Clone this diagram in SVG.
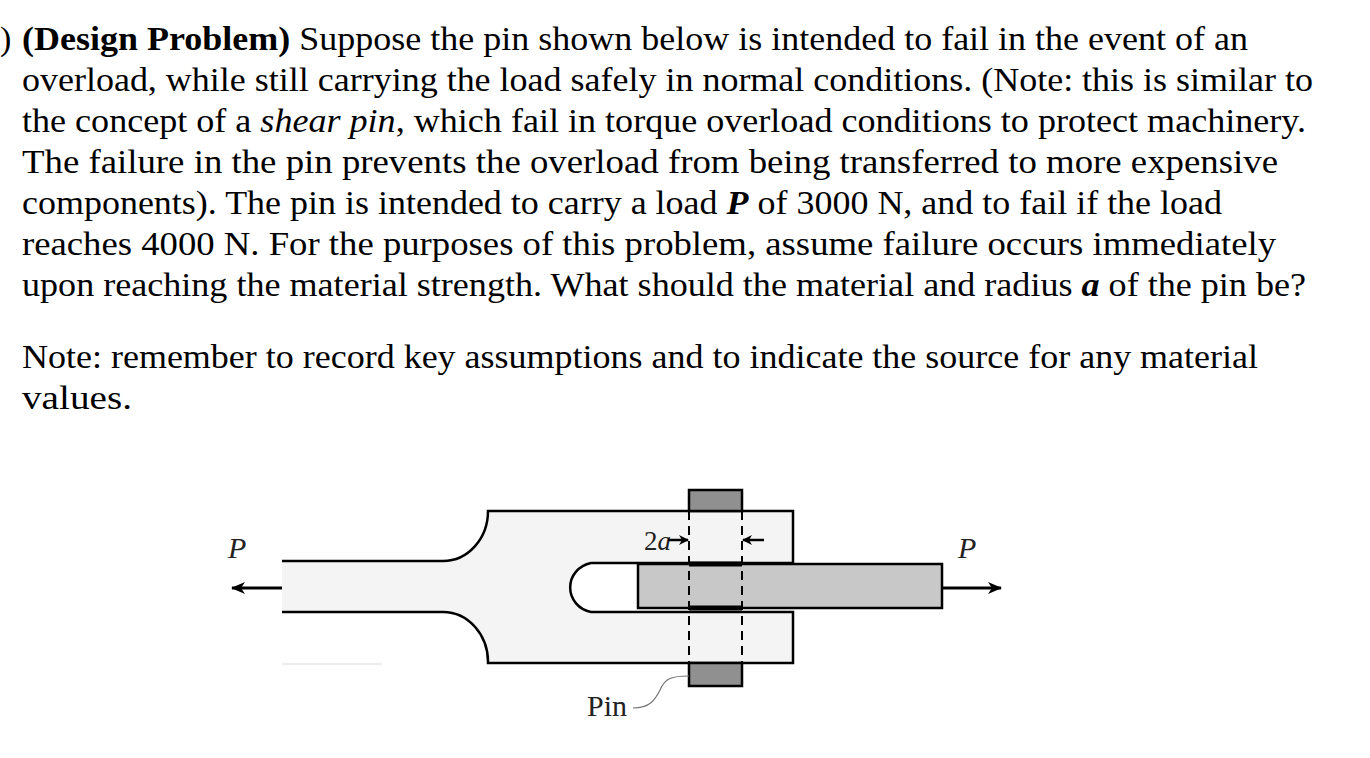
<svg xmlns="http://www.w3.org/2000/svg" width="1370" height="758" viewBox="0 0 1370 758">
<defs>
<style>
.t{font-family:"Liberation Serif",serif;font-size:34px;fill:#000}
.lbl{font-family:"Liberation Serif",serif;fill:#222}
.ol{fill:none;stroke:#000;stroke-width:2.5}
</style>
<marker id="ah" markerWidth="14" markerHeight="12" refX="13" refY="6" orient="auto" markerUnits="userSpaceOnUse"><path d="M0,0 L14,6 L0,12 L4,6 Z" fill="#000"/></marker>
<marker id="as" markerWidth="10" markerHeight="10" refX="9" refY="5" orient="auto" markerUnits="userSpaceOnUse"><path d="M0,0 L10,5 L0,10 L3,5 Z" fill="#000"/></marker>
</defs>
<rect width="1370" height="758" fill="#fff"/>
<g id="text">
<text class="t" x="0" y="50">)</text>
<text class="t" x="22" y="50" textLength="1226" lengthAdjust="spacingAndGlyphs"><tspan font-weight="bold">(Design Problem)</tspan> Suppose the pin shown below is intended to fail in the event of an</text>
<text class="t" x="22" y="91" textLength="1291" lengthAdjust="spacingAndGlyphs">overload, while still carrying the load safely in normal conditions. (Note: this is similar to</text>
<text class="t" x="22" y="132" textLength="1284" lengthAdjust="spacingAndGlyphs">the concept of a <tspan font-style="italic">shear pin</tspan>, which fail in torque overload conditions to protect machinery.</text>
<text class="t" x="22" y="173" textLength="1256" lengthAdjust="spacingAndGlyphs">The failure in the pin prevents the overload from being transferred to more expensive</text>
<text class="t" x="22" y="214" textLength="1200" lengthAdjust="spacingAndGlyphs">components). The pin is intended to carry a load <tspan font-style="italic" font-weight="bold">P</tspan> of 3000 N, and to fail if the load</text>
<text class="t" x="22" y="255" textLength="1254" lengthAdjust="spacingAndGlyphs">reaches 4000 N. For the purposes of this problem, assume failure occurs immediately</text>
<text class="t" x="22" y="296" textLength="1284" lengthAdjust="spacingAndGlyphs">upon reaching the material strength. What should the material and radius <tspan font-style="italic" font-weight="bold">a</tspan> of the pin be?</text>
<text class="t" x="22" y="368" textLength="1236" lengthAdjust="spacingAndGlyphs">Note: remember to record key assumptions and to indicate the source for any material</text>
<text class="t" x="22" y="409" textLength="110" lengthAdjust="spacingAndGlyphs">values.</text>
</g>
<g id="clevis">
<path d="M282,561 H443 A45,50 0 0 0 488,511 H793 V563 H591 A26,25 0 0 0 591,612 H793 V663 H488 A45,50 0 0 0 443,612 H282 Z" fill="#f4f4f4"/>
<path class="ol" d="M282,561 H443 A45,50 0 0 0 488,511 H793 V563 H591 A26,25 0 0 0 591,612 H793 V663 H488 A45,50 0 0 0 443,612 H282"/>
<line x1="282" y1="664" x2="382" y2="664" stroke="#e6e6e6" stroke-width="1.5"/>
</g>
<g id="bar">
<rect x="638" y="564" width="304" height="44" fill="#c8c8c8" stroke="#000" stroke-width="2.5"/>
</g>
<g id="pin">
<rect x="689" y="490" width="53" height="21" fill="#909090" stroke="#000" stroke-width="2.5"/>
<rect x="689" y="663" width="53" height="23" fill="#909090" stroke="#000" stroke-width="2.5"/>
<line x1="689" y1="511" x2="689" y2="663" stroke="#000" stroke-width="2" stroke-dasharray="9,6"/>
<line x1="742" y1="511" x2="742" y2="663" stroke="#000" stroke-width="2" stroke-dasharray="9,6"/>
<line x1="689" y1="564" x2="742" y2="564" stroke="#000" stroke-width="5"/>
<line x1="689" y1="608" x2="742" y2="608" stroke="#000" stroke-width="5"/>
</g>
<g id="labels">
<text class="lbl" x="228" y="558" font-size="30" font-style="italic">P</text>
<text class="lbl" x="958" y="558" font-size="30" font-style="italic">P</text>
<text class="lbl" x="644" y="550" font-size="27">2<tspan font-style="italic">a</tspan></text>
<text class="lbl" x="587" y="716" font-size="30">Pin</text>
</g>
<g id="connectors" fill="none" stroke="#000" stroke-width="3">
<line x1="282" y1="588" x2="232" y2="588" marker-end="url(#ah)"/>
<line x1="942" y1="588" x2="1001" y2="588" marker-end="url(#ah)"/>
<line x1="668" y1="540" x2="688" y2="540" stroke-width="2.5" marker-end="url(#as)"/>
<line x1="764" y1="540" x2="743" y2="540" stroke-width="2.5" marker-end="url(#as)"/>
<path d="M633,708 C650,708 655,700 660,690 C665,678 672,676 689,676" stroke="#777" stroke-width="1.2"/>
</g>
</svg>
